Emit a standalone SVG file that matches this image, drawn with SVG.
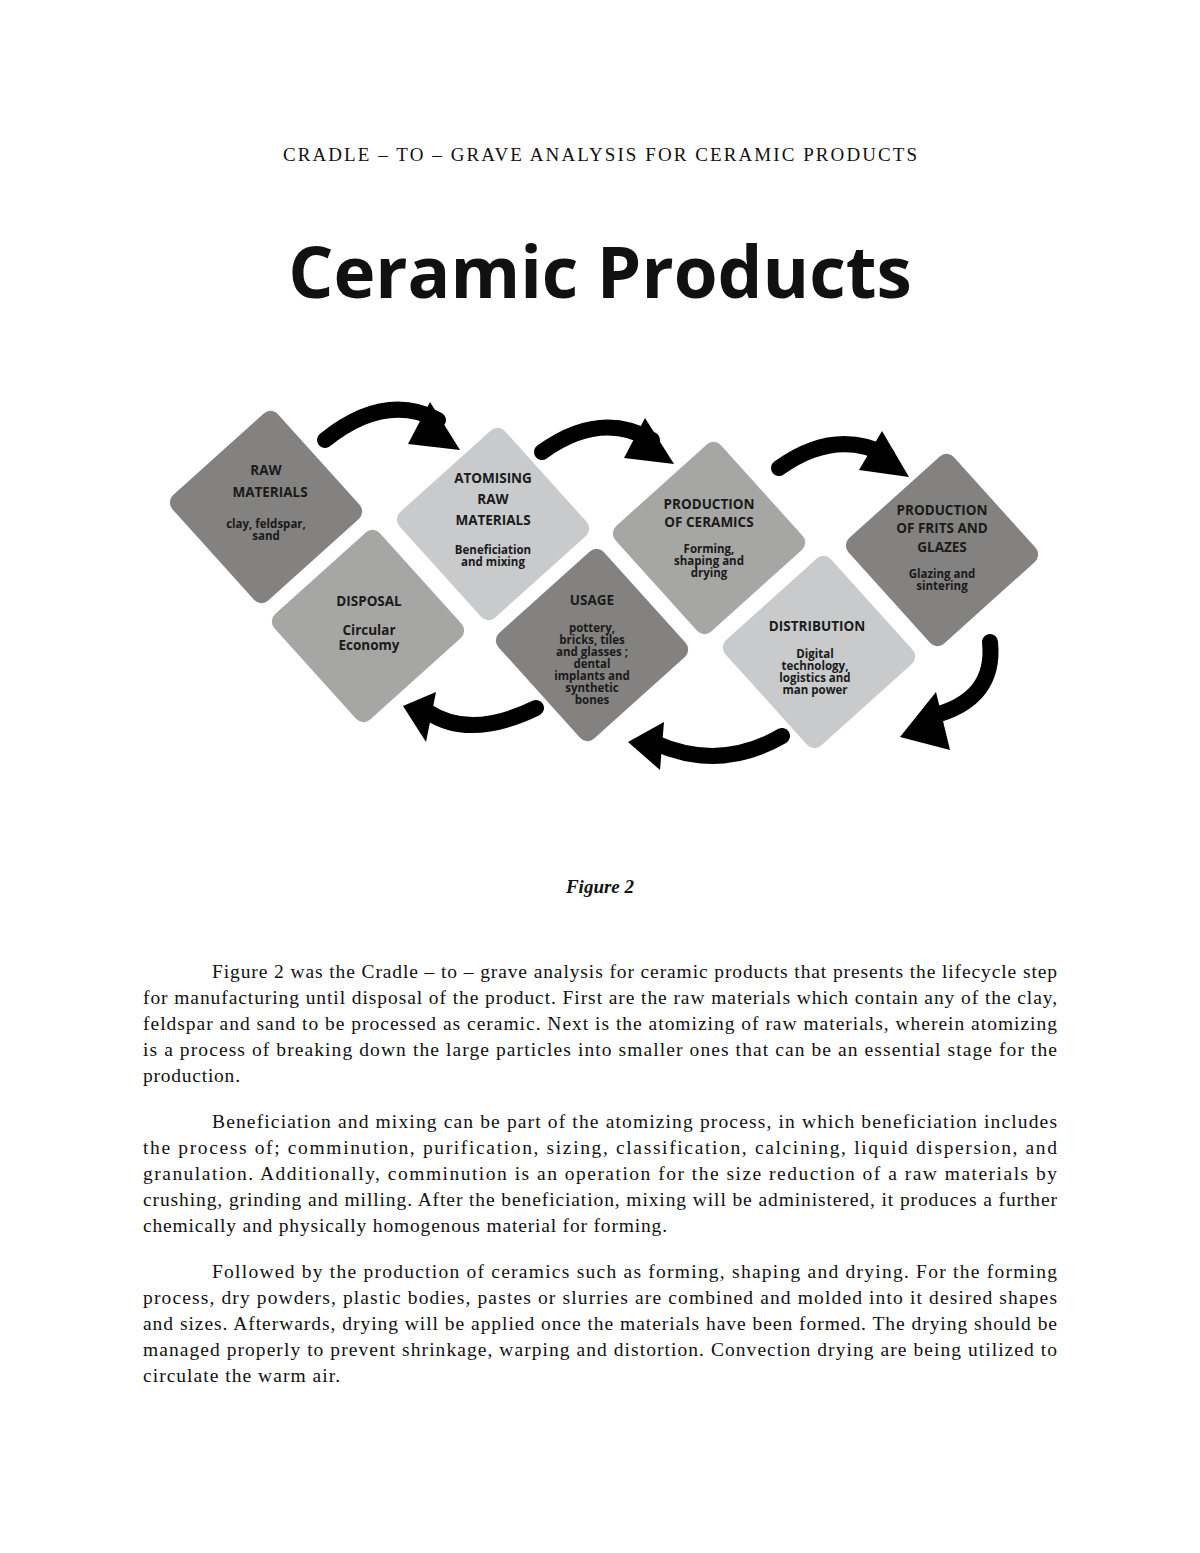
<svg xmlns="http://www.w3.org/2000/svg" width="1200" height="1553" viewBox="0 0 1200 1553">
<style>
.t{font-family:"Liberation Serif",serif;font-size:19px;fill:#111}
.j{font-family:"Liberation Serif",serif;font-size:19.5px;fill:#111}
.h{font-family:"Open Sans","DejaVu Sans",sans-serif;font-weight:bold;font-size:13.5px;fill:#1a1a1a;text-anchor:middle}
.s{font-family:"Open Sans","DejaVu Sans",sans-serif;font-weight:bold;font-size:11.5px;fill:#1a1a1a;text-anchor:middle}
.dk{fill:#838280}.lt{fill:#c8cacb}.md{fill:#a6a6a4}
.ab{fill:none;stroke:#000;stroke-width:16;stroke-linecap:round}
</style>
<rect width="1200" height="1553" fill="#fff"/>
<text x="283" y="161" class="t" font-size="19.5" textLength="634" lengthAdjust="spacing">CRADLE – TO – GRAVE ANALYSIS FOR CERAMIC PRODUCTS</text>
<text x="600" y="298" font-family="Open Sans,DejaVu Sans,sans-serif" font-weight="bold" font-size="71" text-anchor="middle" fill="#111">Ceramic Products</text>

<g id="raw"><rect class="dk" x="-71" y="-71" width="142" height="142" rx="10" transform="translate(266,507) rotate(48)"/>
<text class="h" x="266" y="475">RAW</text><text class="h" x="270" y="497">MATERIALS</text>
<text class="s" x="266" y="528">clay, feldspar,</text><text class="s" x="266" y="540">sand</text></g>
<g id="atomising"><rect class="lt" x="-71" y="-71" width="142" height="142" rx="10" transform="translate(493,524) rotate(48)"/>
<text class="h" x="493" y="483">ATOMISING</text><text class="h" x="493" y="504">RAW</text><text class="h" x="493" y="525">MATERIALS</text>
<text class="s" x="493" y="554">Beneficiation</text><text class="s" x="493" y="566">and mixing</text></g>
<g id="ceramics"><rect class="md" x="-71" y="-71" width="142" height="142" rx="10" transform="translate(709,538) rotate(48)"/>
<text class="h" x="709" y="509">PRODUCTION</text><text class="h" x="709" y="527">OF CERAMICS</text>
<text class="s" x="709" y="553">Forming,</text><text class="s" x="709" y="565">shaping and</text><text class="s" x="709" y="577">drying</text></g>
<g id="frits"><rect class="dk" x="-71" y="-71" width="142" height="142" rx="10" transform="translate(942,550) rotate(48)"/>
<text class="h" x="942" y="515">PRODUCTION</text><text class="h" x="942" y="533">OF FRITS AND</text><text class="h" x="942" y="552">GLAZES</text>
<text class="s" x="942" y="578">Glazing and</text><text class="s" x="942" y="590">sintering</text></g>
<g id="disposal"><rect class="md" x="-71" y="-71" width="142" height="142" rx="10" transform="translate(368,626) rotate(48)"/>
<text class="h" x="369" y="606">DISPOSAL</text>
<text class="h" x="369" y="635" font-weight="normal" font-size="13">Circular</text><text class="h" x="369" y="650" font-size="13">Economy</text></g>
<g id="usage"><rect class="dk" x="-71" y="-71" width="142" height="142" rx="10" transform="translate(592,645) rotate(48)"/>
<text class="h" x="592" y="605">USAGE</text>
<text class="s" x="592" y="632">pottery,</text><text class="s" x="592" y="644">bricks, tiles</text><text class="s" x="592" y="656">and glasses ;</text><text class="s" x="592" y="668">dental</text><text class="s" x="592" y="680">implants and</text><text class="s" x="592" y="692">synthetic</text><text class="s" x="592" y="704">bones</text></g>
<g id="distribution"><rect class="lt" x="-71" y="-71" width="142" height="142" rx="10" transform="translate(819,652) rotate(48)"/>
<text class="h" x="817" y="631">DISTRIBUTION</text>
<text class="s" x="815" y="658">Digital</text><text class="s" x="815" y="670">technology,</text><text class="s" x="815" y="682">logistics and</text><text class="s" x="815" y="694">man power</text></g>

<g id="connectors">
<path class="ab" d="M325,440 Q385,392 438,420"/><polygon points="430,402 460,450 408,444"/>
<path class="ab" d="M542,452 Q600,410 652,440"/><polygon points="645,418 674,464 624,458"/>
<path class="ab" d="M779,468 Q835,428 887,455"/><polygon points="882,431 909,477 859,470"/>
<path class="ab" d="M990,642 Q996,700 932,716"/><polygon points="936,692 900,737 950,750"/>
<path class="ab" d="M782,736 Q720,772 655,743"/><polygon points="664,722 628,742 660,770"/>
<path class="ab" d="M536,708 Q470,740 428,712"/><polygon points="436,692 403,706 426,742"/>
</g>

<text x="600" y="893" class="t" text-anchor="middle" font-style="italic" font-weight="bold">Figure 2</text>

<text class="j" x="212" y="978" textLength="845" lengthAdjust="spacing">Figure 2 was the Cradle – to – grave analysis for ceramic products that presents the lifecycle step</text>
<text class="j" x="143" y="1004" textLength="914" lengthAdjust="spacing">for manufacturing until disposal of the product. First are the raw materials which contain any of the clay,</text>
<text class="j" x="143" y="1030" textLength="914" lengthAdjust="spacing">feldspar and sand to be processed as ceramic. Next is the atomizing of raw materials, wherein atomizing</text>
<text class="j" x="143" y="1056" textLength="914" lengthAdjust="spacing">is a process of breaking down the large particles into smaller ones that can be an essential stage for the</text>
<text class="j" x="143" y="1082" textLength="97" lengthAdjust="spacing">production.</text>

<text class="j" x="212" y="1128" textLength="845" lengthAdjust="spacing">Beneficiation and mixing can be part of the atomizing process, in which beneficiation includes</text>
<text class="j" x="143" y="1154" textLength="914" lengthAdjust="spacing">the process of; comminution, purification, sizing, classification, calcining, liquid dispersion, and</text>
<text class="j" x="143" y="1180" textLength="914" lengthAdjust="spacing">granulation. Additionally, comminution is an operation for the size reduction of a raw materials by</text>
<text class="j" x="143" y="1206" textLength="914" lengthAdjust="spacing">crushing, grinding and milling. After the beneficiation, mixing will be administered, it produces a further</text>
<text class="j" x="143" y="1232" textLength="524" lengthAdjust="spacing">chemically and physically homogenous material for forming.</text>

<text class="j" x="212" y="1278" textLength="845" lengthAdjust="spacing">Followed by the production of ceramics such as forming, shaping and drying. For the forming</text>
<text class="j" x="143" y="1304" textLength="914" lengthAdjust="spacing">process, dry powders, plastic bodies, pastes or slurries are combined and molded into it desired shapes</text>
<text class="j" x="143" y="1330" textLength="914" lengthAdjust="spacing">and sizes. Afterwards, drying will be applied once the materials have been formed. The drying should be</text>
<text class="j" x="143" y="1356" textLength="914" lengthAdjust="spacing">managed properly to prevent shrinkage, warping and distortion. Convection drying are being utilized to</text>
<text class="j" x="143" y="1382" textLength="197" lengthAdjust="spacing">circulate the warm air.</text>
</svg>
